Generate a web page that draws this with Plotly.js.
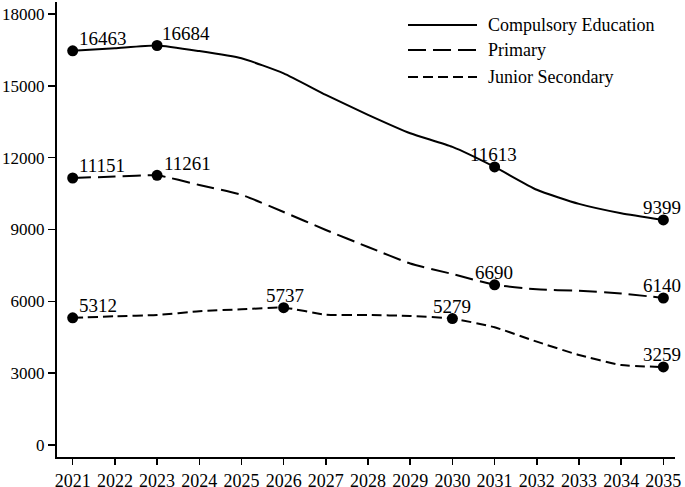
<!DOCTYPE html>
<html>
<head>
<meta charset="utf-8">
<script src="https://cdn.plot.ly/plotly-3.0.1.min.js"></script>
<style>html,body{margin:0;padding:0;background:#fff;}#chart{width:685px;height:487px;}</style>
</head>
<body>
<div id="chart"></div>
<script>
const years = [2021,2022,2023,2024,2025,2026,2027,2028,2029,2030,2031,2032,2033,2034,2035];
const compulsory = [16463,16570,16684,16450,16150,15520,14620,13790,13020,12450,11613,10660,10070,9680,9399];
const primary = [11151,11210,11261,10860,10450,9730,8980,8270,7580,7140,6690,6500,6440,6330,6140];
const junior = [5312,5375,5430,5585,5668,5737,5443,5430,5388,5279,4916,4316,3760,3342,3259];

const compLabelYears = [2021,2023,2031,2035];
const primLabelYears = [2021,2023,2031,2035];
const junLabelYears = [2021,2026,2030,2035];

const seriesNames = ['Compulsory Education','Primary','Junior Secondary'];
const dashes = ['solid','18px,7px','10px,5px'];
const yTicks = [0,3000,6000,9000,12000,15000,18000];

// label offsets (pixels) relative to marker centre
const compShiftX = [30,29,-1,-1];
const primShiftX = [29,30,-1,-1];
const junShiftX = [25,1,0,-1];
const labelShiftY = 12;

const serif = 'Liberation Serif';

function pick(arr, ys){ return ys.map(y => arr[years.indexOf(y)]); }

const lineData = [compulsory, primary, junior];
const labelYears = [compLabelYears, primLabelYears, junLabelYears];
const shiftX = [compShiftX, primShiftX, junShiftX];

const traces = [];
const annotations = [];
lineData.forEach((d,i) => {
  traces.push({
    x: years, y: d, type:'scatter', mode:'lines', name: seriesNames[i],
    line:{color:'#000', width:2, dash:dashes[i], shape:'spline', smoothing:0.5},
    showlegend:false, hoverinfo:'skip'
  });
});
lineData.forEach((d,i) => {
  const vals = pick(d, labelYears[i]);
  traces.push({
    x: labelYears[i], y: vals, type:'scatter', mode:'markers',
    marker:{color:'#000', size:11},
    showlegend:false, cliponaxis:false, hoverinfo:'skip'
  });
  vals.forEach((v,k) => {
    annotations.push({x: labelYears[i][k], y: v, xref:'x', yref:'y', text:String(v), showarrow:false,
      xanchor:'center', yanchor:'middle', xshift: shiftX[i][k], yshift: labelShiftY,
      font:{family:serif, size:19, color:'#000'}});
  });
});

// legend drawn in paper coordinates
const legendY = [25, 50, 77];
const shapes = [];
const W = 685, H = 487, L = 57, R = 10, T = 2, B = 30;
const pw = W-L-R, ph = H-T-B;
function px(x){ return (x-L)/pw; }
function py(y){ return 1-(y-T)/ph; }
seriesNames.forEach((n,i) => {
  shapes.push({type:'line', xref:'paper', yref:'paper', x0:px(408), x1:px(477), y0:py(legendY[i]), y1:py(legendY[i]),
    line:{color:'#000', width:2, dash:dashes[i]}});
  annotations.push({xref:'paper', yref:'paper', x:px(486), y:py(legendY[i]), xanchor:'left', yanchor:'middle',
    text:n, showarrow:false, font:{family:serif, size:18, color:'#000'}});
});

const layout = {
  width: W, height: H,
  margin:{l:L, r:R, t:T, b:B, pad:0},
  paper_bgcolor:'#fff', plot_bgcolor:'#fff',
  font:{family:serif, color:'#000'},
  showlegend:false,
  xaxis:{range:[2020.628, 2035.276], tickvals: years, ticktext: years.map(String),
    showline:true, linecolor:'#000', linewidth:2, ticks:'outside', ticklen:6, tickwidth:1.5, tickcolor:'#000',
    showgrid:false, zeroline:false, tickfont:{family:serif, size:18, color:'#000'}},
  yaxis:{range:[-500, 18500], tickvals: yTicks, ticktext: yTicks.map(String),
    showline:true, linecolor:'#000', linewidth:2, ticks:'outside', ticklen:7, tickwidth:1.5, tickcolor:'#000',
    showgrid:false, zeroline:false, tickfont:{family:serif, size:17, color:'#000'}},
  shapes: shapes, annotations: annotations
};
Plotly.newPlot('chart', traces, layout, {displayModeBar:false, staticPlot:true});
</script>
</body>
</html>
